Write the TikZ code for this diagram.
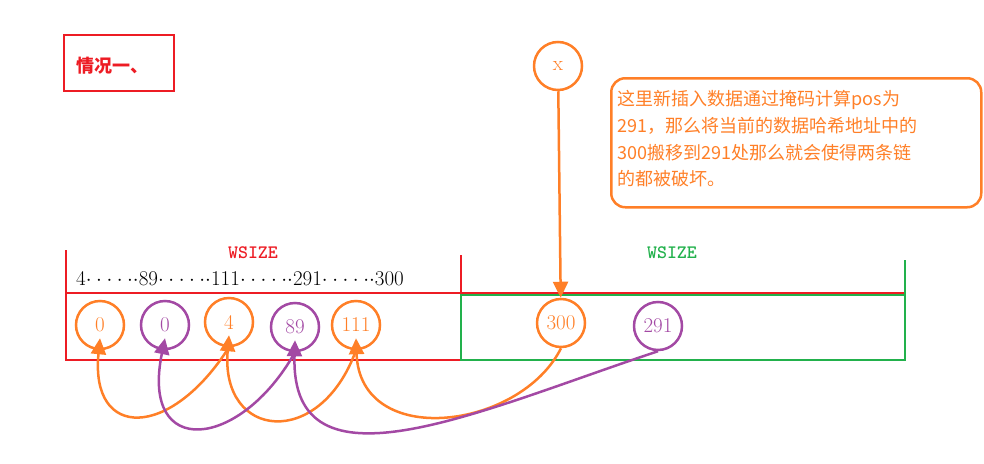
\documentclass[tikz,border=0pt]{standalone}
\usepackage{fontspec}
\newfontfamily\cjk{Noto Sans CJK SC}
\usetikzlibrary{arrows.meta}
\definecolor{ora}{RGB}{255,127,39}
\definecolor{pur}{RGB}{163,73,164}
\definecolor{rd}{RGB}{237,28,36}
\definecolor{gr}{RGB}{34,177,76}
\newcommand{\dd}{$\cdot\cdot\cdot\cdot\cdot\cdot$}
\tikzset{
 cir/.style={circle,draw,line width=2.5pt,minimum size=48pt,inner sep=0pt,font=\fontsize{21}{21}\selectfont},
 oc/.style={cir,draw=ora,text=ora},
 pc/.style={cir,draw=pur,text=pur},
 olink/.style={draw=ora,line width=2.5pt,-{Triangle[length=16pt,width=15pt]}},
 plink/.style={draw=pur,line width=2.5pt,-{Triangle[length=16pt,width=15pt]}},
}
\begin{document}
\begin{tikzpicture}[x=1pt,y=-1pt]
\useasboundingbox (0,0) rectangle (984,463);
% title
\node[draw=rd,line width=2.5pt,minimum width=110pt,minimum height=56pt] (t) at (119,63) {};
\node[anchor=west,text=rd,font=\cjk\bfseries\fontsize{18}{18}\selectfont] (tt) at (73,66) {情况一、};
% x
\node[oc] (x) at (558,66) {x};
\node[draw=ora,line width=2.5pt,rounded corners=14pt,minimum width=370pt,minimum height=129pt,anchor=north west] (note) at (610,77) {};
\node[anchor=north west,text=ora,align=left,font=\cjk\fontsize{18}{26.7}\selectfont] (nt) at (614,87) {这里新插入数据通过掩码计算pos为\\291，那么将当前的数据哈希地址中的\\300搬移到291处那么就会使得两条链\\的都被破坏。};
% boxes
\draw[rd,line width=2.5pt] (66,250) -- (66,360) -- (461,360);
\draw[rd,line width=2.5pt] (461,255) -- (461,295);
\draw[rd,line width=2.5pt] (66,293) -- (905,293);
\draw[gr,line width=2.5pt] (461,295) rectangle (905,360);
\draw[gr,line width=2.5pt] (905,260) -- (905,295);
\node[text=rd,font=\ttfamily\bfseries\fontsize{19}{19}\selectfont] (w1) at (253,253) {WSIZE};
\node[text=gr,font=\ttfamily\bfseries\fontsize{19}{19}\selectfont] (w2) at (672,253) {WSIZE};
\node[font=\fontsize{21}{21}\selectfont] (seq) at (240,279) {4\dd 89\dd 111\dd 291\dd 300};
% circles
\node[oc] (a0) at (100,325) {0};
\node[pc] (b0) at (165,325) {0};
\node[oc] (a4) at (229,322) {4};
\node[pc] (b89) at (295,327) {89};
\node[oc] (a111) at (356,325) {111};
\node[oc] (a300) at (561,323) {300};
\node[pc] (b291) at (658,326) {291};
\draw[olink] (x) -- (a300);
% chains
\draw[olink] (a4.south) .. controls (170,440) and (90,440) .. ([yshift=12pt]a0.south);
\draw[olink] (a111.south) .. controls (320,450) and (220,440) .. ([yshift=12pt]a4.south);
\draw[olink] (a300.south) .. controls (520,430) and (360,450) .. ([yshift=12pt]a111.south);
\draw[plink] (b89.south) .. controls (240,450) and (140,460) .. ([yshift=12pt]b0.south);
\draw[plink] (b291.south) .. controls (480,410) and (290,500) .. ([yshift=12pt]b89.south);
\end{tikzpicture}
\end{document}
